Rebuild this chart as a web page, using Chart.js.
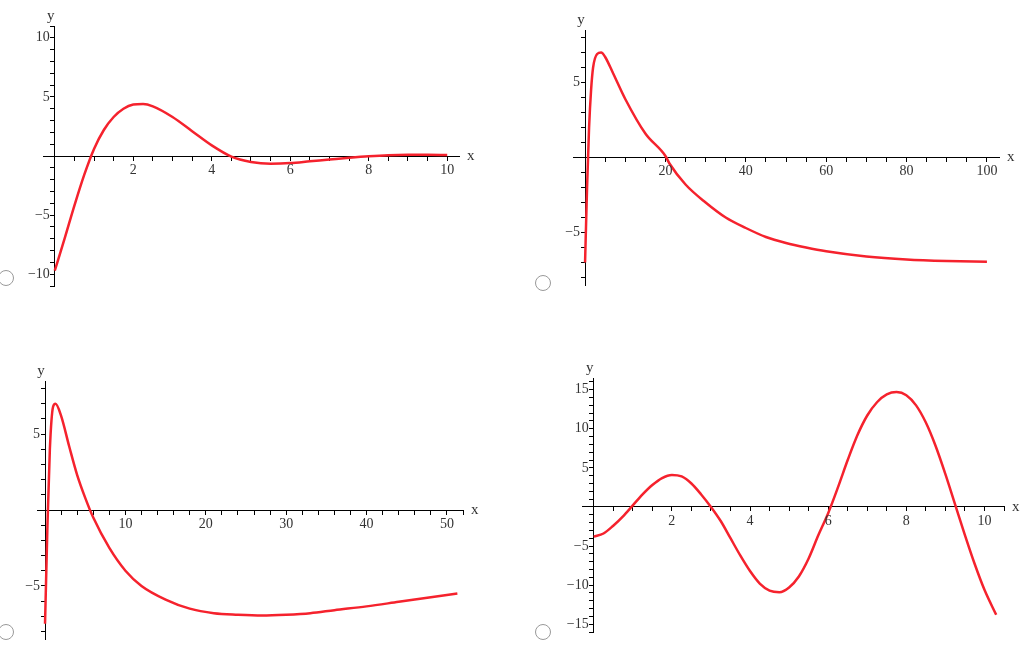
<!DOCTYPE html>
<html>
<head>
    <title>Four plots</title>
    <script src="https://cdn.jsdelivr.net/npm/chart.js"></script>
    <style>
        body { margin: 0; background: #fff; width: 1024px; height: 651px; overflow: hidden; position: relative; }
        .panel { position: absolute; }
        .radio { position: absolute; width: 14px; height: 14px; border: 1px solid #999; border-radius: 50%; background: #fff; }
    </style>
</head>
<body>
    <div class="panel" id="p1"><canvas id="c1"></canvas></div>
    <div class="panel" id="p2"><canvas id="c2"></canvas></div>
    <div class="panel" id="p3"><canvas id="c3"></canvas></div>
    <div class="panel" id="p4"><canvas id="c4"></canvas></div>
    <div class="radio" style="left:-2px;top:270px"></div>
    <div class="radio" style="left:535px;top:275px"></div>
    <div class="radio" style="left:-2px;top:624px"></div>
    <div class="radio" style="left:535px;top:624px"></div>

    <script>
        // curve samples
        const x1 = [0, 0.25, 0.5, 0.75, 1, 1.25, 1.5, 1.75, 2, 2.25, 2.5, 3, 3.5, 4, 4.5, 5, 5.5, 6, 6.5, 7, 7.5, 8, 8.5, 9, 9.5, 10];
        const y1 = [-9.7, -7, -4.2, -1.6, 0.6, 2.2, 3.3, 4.0, 4.35, 4.4, 4.2, 3.3, 2.1, 0.9, -0.05, -0.5, -0.65, -0.6, -0.45, -0.3, -0.15, -0.02, 0.07, 0.1, 0.1, 0.08];
        const xLabels1 = [2, 4, 6, 8, 10];
        const yLabels1 = [-10, -5, 5, 10];

        const x2 = [0, 0.5, 1, 1.5, 2, 3, 4, 5, 7, 10, 15, 20, 21, 25, 30, 35, 40, 45, 50, 55, 60, 70, 80, 90, 100];
        const y2 = [-7, -2, 2, 4.5, 6, 6.9, 7, 6.7, 5.6, 3.9, 1.6, 0.1, -0.4, -1.8, -3.0, -4.0, -4.7, -5.3, -5.7, -6.0, -6.25, -6.6, -6.8, -6.9, -6.95];
        const xLabels2 = [20, 40, 60, 80, 100];
        const yLabels2 = [-5, 5];

        const x3 = [0, 0.3, 0.6, 1, 1.3, 2, 3, 4, 5, 6, 8, 10, 12, 15, 18, 21, 24, 27, 30, 33, 36, 40, 44, 48, 51.3];
        const y3 = [-7.5, -1, 4, 6.8, 7, 6.2, 4.2, 2.3, 0.8, -0.5, -2.5, -4.0, -5.0, -5.9, -6.5, -6.8, -6.9, -6.95, -6.9, -6.8, -6.6, -6.35, -6.05, -5.75, -5.5];
        const xLabels3 = [10, 20, 30, 40, 50];
        const yLabels3 = [-5, 5];

        const x4 = [0, 0.25, 0.5, 0.75, 1, 1.25, 1.5, 1.75, 2, 2.25, 2.5, 2.75, 3, 3.25, 3.5, 3.75, 4, 4.25, 4.5, 4.75, 5, 5.25, 5.5, 5.75, 6, 6.25, 6.5, 6.75, 7, 7.25, 7.5, 7.75, 8, 8.25, 8.5, 8.75, 9, 9.25, 9.5, 9.75, 10, 10.3];
        const y4 = [-3.8, -3.4, -2.4, -1.2, 0.2, 1.6, 2.8, 3.7, 4.1, 3.9, 3.0, 1.6, 0, -1.8, -4, -6.2, -8.2, -9.8, -10.7, -10.9, -10.3, -8.9, -6.6, -3.6, -0.8, 2.5, 6, 9.2, 11.7, 13.4, 14.4, 14.7, 14.3, 13, 10.8, 7.8, 4.2, 0.3, -3.6, -7.3, -10.6, -13.8];
        const xLabels4 = [2, 4, 6, 8, 10];
        const yLabels4 = [-15, -10, -5, 5, 10, 15];

        const PAD = 34;
        const FONT = '14px "Liberation Serif", serif';

        function fmt(v) {
            return v < 0 ? '\u2212' + Math.abs(v) : String(v);
        }

        function range(a, b, step) {
            const out = [];
            for (let v = a; v <= b + 1e-9; v += step) out.push(Math.round(v * 1000) / 1000);
            return out;
        }

        // tick labels and axis names drawn next to the axes, Mathematica style
        const axisLabels = {
            id: 'axisLabels',
            afterDraw(chart, args, o) {
                const ctx = chart.ctx;
                const xs = chart.scales.x, ys = chart.scales.y;
                const x0 = xs.getPixelForValue(0), y0 = ys.getPixelForValue(0);
                ctx.save();
                ctx.fillStyle = '#333';
                ctx.font = FONT;
                ctx.textAlign = 'center';
                ctx.textBaseline = 'top';
                o.xLabels.forEach(v => ctx.fillText(fmt(v), xs.getPixelForValue(v), y0 + 7));
                ctx.textAlign = 'right';
                ctx.textBaseline = 'middle';
                o.yLabels.forEach(v => ctx.fillText(fmt(v), x0 - 5, ys.getPixelForValue(v)));
                ctx.font = '15px "Liberation Serif", serif';
                ctx.textAlign = 'center';
                ctx.textBaseline = 'bottom';
                ctx.fillText('y', x0 - 4, chart.chartArea.top - 2);
                ctx.textAlign = 'left';
                ctx.textBaseline = 'middle';
                ctx.fillText('x', chart.chartArea.right + 8, y0);
                ctx.restore();
            }
        };

        function makePlot(n, xs, ys, xLabels, yLabels, opt) {
            const box = document.getElementById('p' + n);
            box.style.left = (opt.left - PAD) + 'px';
            box.style.top = (opt.top - PAD) + 'px';
            box.style.width = (opt.width + 2 * PAD) + 'px';
            box.style.height = (opt.height + 2 * PAD) + 'px';
            const pts = xs.map((v, i) => ({ x: v, y: ys[i] }));
            const xt = range(opt.xt0, opt.xmax, opt.xminor);
            const yt = range(opt.yt0, opt.ymax, opt.yminor);
            const axis = (ticks) => ({
                type: 'linear',
                border: { color: '#000', width: 1 },
                grid: { drawOnChartArea: false, drawTicks: true, tickLength: 4, color: '#000' },
                ticks: { autoSkip: false, maxRotation: 0, callback: () => '' },
                afterBuildTicks: s => { s.ticks = ticks.map(v => ({ value: v })); }
            });
            new Chart(document.getElementById('c' + n), {
                type: 'scatter',
                data: { datasets: [{ data: pts, showLine: true, borderColor: '#f5222d', borderWidth: 2.5, pointRadius: 0, cubicInterpolationMode: 'monotone' }] },
                options: {
                    responsive: true, maintainAspectRatio: false, animation: false,
                    layout: { padding: PAD },
                    plugins: { legend: { display: false }, tooltip: { enabled: false }, axisLabels: { xLabels, yLabels } },
                    scales: {
                        x: Object.assign(axis(xt), { position: { y: 0 }, min: opt.xmin, max: opt.xmax }),
                        y: Object.assign(axis(yt), { position: { x: 0 }, min: opt.ymin, max: opt.ymax })
                    }
                },
                plugins: [axisLabels]
            });
        }

        makePlot(1, x1, y1, xLabels1, yLabels1, { left: 43, top: 26, width: 416, height: 260, xmin: -0.3, xmax: 10.3, ymin: -11, ymax: 11, xt0: 0, xminor: 0.5, yt0: -11, yminor: 1 });
        makePlot(2, x2, y2, xLabels2, yLabels2, { left: 573, top: 30, width: 426, height: 255, xmin: -3, xmax: 103, ymin: -8.5, ymax: 8.5, xt0: 0, xminor: 5, yt0: -8, yminor: 1 });
        makePlot(3, x3, y3, xLabels3, yLabels3, { left: 37, top: 381, width: 426, height: 258, xmin: -1, xmax: 52, ymin: -8.5, ymax: 8.5, xt0: 0, xminor: 2, yt0: -8, yminor: 1 });
        makePlot(4, x4, y4, xLabels4, yLabels4, { left: 582, top: 378, width: 422, height: 254, xmin: -0.3, xmax: 10.5, ymin: -16, ymax: 16.5, xt0: 0, xminor: 0.5, yt0: -16, yminor: 1 });
    </script>
</body>
</html>
